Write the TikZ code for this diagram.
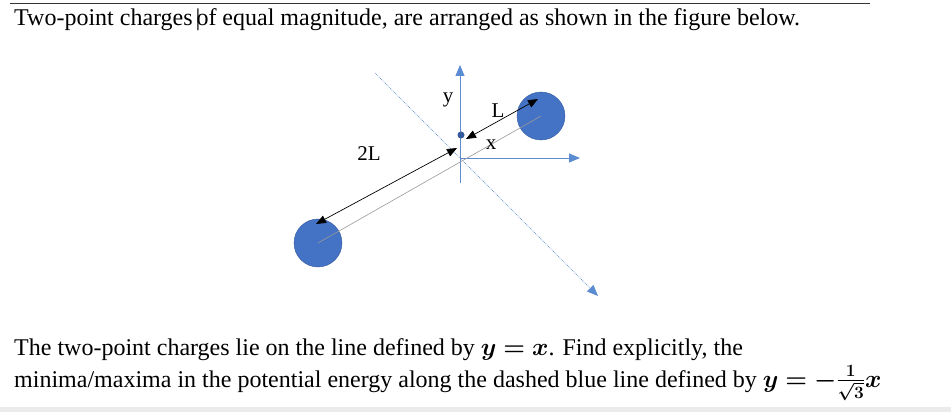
\documentclass[tikz,border=0pt]{standalone}
\usepackage{amsmath,bm}
\usepackage{fontspec}
\setmainfont{Liberation Serif}
\usetikzlibrary{arrows.meta}
\definecolor{cblue}{HTML}{4472C4}
\definecolor{abl}{HTML}{5B8BD0}
\begin{document}
\begin{tikzpicture}[x=1pt,y=-1pt,
  axis/.style={draw=abl, line width=0.8pt, -{Triangle[length=11pt,width=9pt]}},
  charge/.style={circle, fill=cblue, draw=cblue!80!black, minimum size=48pt, inner sep=0pt},
  dim/.style={draw=black, line width=0.7pt},
  txt/.style={inner sep=0pt, anchor=west, font=\fontsize{24}{28}\selectfont}]
\useasboundingbox (0,0) rectangle (951,412);
\fill[white] (0,0) rectangle (951,412);
\draw[black!80, line width=0.8pt] (10,3) -- (870,3);
\node[txt] (t1) at (14,20) {Two-point charges \hspace{-3pt}|\hspace{-4pt}of equal magnitude, are arranged as shown in the figure below.};
% axes
\coordinate (o) at (460,158);
\coordinate (ybot) at (460,183);
\coordinate (ytop) at (460,65);
\coordinate (xend) at (580,158);
\coordinate (d1) at (375,73);
\coordinate (d2) at (598,296);
\draw[axis] (ybot) -- (ytop);
\draw[axis] (o) -- (xend);
\draw[axis, densely dotted, line width=0.7pt] (d1) -- (d2);
% charges
\node[charge] (q1) at (318,243) {};
\node[charge] (q2) at (541,116) {};
\draw[black!40, line width=0.6pt] (q1.center) -- (q2.center);
% dimension arrows
\coordinate (a1) at (457,148);
\coordinate (a2) at (316,224);
\coordinate (b1) at (466,139);
\coordinate (b2) at (538,99);
\draw[dim, {Triangle[length=10pt,width=8pt]}-{Triangle[length=10pt,width=8pt]}] (a1) -- (a2);
\draw[dim, {Triangle[length=10pt,width=8pt]}-{Triangle[length=10pt,width=8pt]}] (b1) -- (b2);
\node[circle, fill=cblue!80!black, inner sep=0pt, minimum size=7pt] (dot) at (461,135) {};
\node[font=\fontsize{21}{24}\selectfont] (ly) at (448,100) {y};
\node[font=\fontsize{21}{24}\selectfont] (lL) at (498,111) {L};
\node[font=\fontsize{21}{24}\selectfont] (l2L) at (369,154) {2L};
\node[font=\fontsize{21}{24}\selectfont] (lx) at (491,145) {x};
\node[txt] (t2) at (14,350) {The two-point charges lie on the line defined by $\bm{y=x}$. Find explicitly, the};
\node[txt] (t3) at (14,383) {minima/maxima in the potential energy along the dashed blue line defined by $\bm{y=-\frac{1}{\sqrt{3}}x}$};
\fill[black!8] (0,407) rectangle (951,412);
\end{tikzpicture}
\end{document}
